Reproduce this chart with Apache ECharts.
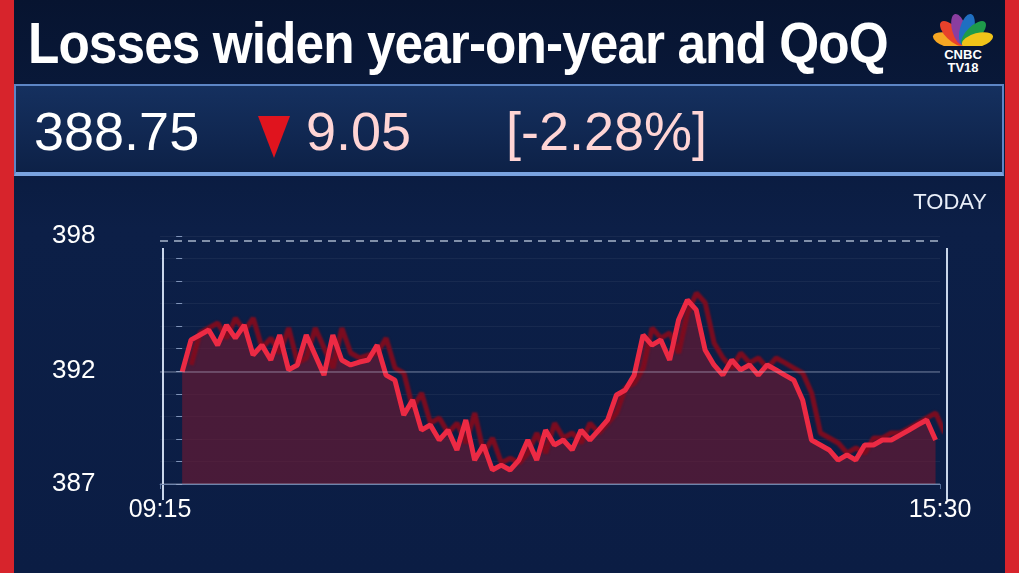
<!DOCTYPE html>
<html><head><meta charset="utf-8">
<script src="https://cdn.jsdelivr.net/npm/echarts@6/dist/echarts.min.js"></script>
<style>
html,body{margin:0;padding:0;width:1019px;height:573px;overflow:hidden;background:#0b1b3d;font-family:"Liberation Sans",Arial,sans-serif}
#wrap{position:relative;width:1019px;height:573px;background:linear-gradient(#071430,#0c1f47 40%,#0b1d44)}
.edge{position:absolute;top:0;width:14px;height:573px;background:#d7242c}
#title{position:absolute;left:28px;top:10px;color:#fff;font-weight:bold;font-size:57px;font-family:"Liberation Sans Narrow","Liberation Sans",sans-serif;letter-spacing:-1px;white-space:nowrap;transform:scaleX(0.9);transform-origin:left}
#box{position:absolute;left:14px;top:84px;width:990px;height:92px;border:2px solid #5d86c6;border-bottom:4px solid #7aa3e0;background:linear-gradient(#15305f,#0d2147);box-sizing:border-box}
.t{position:absolute;top:14px;font-size:54px;white-space:nowrap}
#logo{position:absolute;left:930px;top:12px;width:66px;text-align:center;color:#fff;font-weight:bold;font-size:13px;line-height:13px}
#chart{position:absolute;left:0;top:0;width:1019px;height:573px}
</style></head><body>
<div id="wrap">
<div class="edge" style="left:0"></div><div class="edge" style="right:0"></div>
<div id="title">Losses widen year-on-year and QoQ</div>
<div id="logo"><svg width="62" height="34" viewBox="0 0 62 34"><g transform="translate(31,32)">
<ellipse rx="7" ry="16" transform="rotate(-75) translate(0,-15)" fill="#f5a623"/>
<ellipse rx="7" ry="16" transform="rotate(-45) translate(0,-15)" fill="#e8412b"/>
<ellipse rx="7" ry="16" transform="rotate(-15) translate(0,-15)" fill="#8a3ea0"/>
<ellipse rx="7" ry="16" transform="rotate(15) translate(0,-15)" fill="#1f6fc1"/>
<ellipse rx="7" ry="16" transform="rotate(45) translate(0,-15)" fill="#1e9b4a"/>
<ellipse rx="7" ry="16" transform="rotate(75) translate(0,-15)" fill="#f0c419"/></g></svg><br>CNBC<br>TV18</div>
<div id="box">
<div class="t" style="left:18px;color:#fff">388.75</div>
<div class="t" style="left:242px;top:30px;width:0;height:0;border-left:16px solid transparent;border-right:16px solid transparent;border-top:42px solid #e0141e"></div>
<div class="t" style="left:290px;color:#ffd5d5">9.05</div>
<div class="t" style="left:490px;color:#ffd5d5">[-2.28%]</div>
</div>
<div id="chart"></div>
</div>
<script>
const xLabels = ["09:15", "15:30"];
const yTickLabels = [387, 392, 398];
const prevClose = 397.8;
const prices = [391.97,393.39,393.61,393.83,393.16,394.05,393.47,394.05,392.72,393.16,392.50,393.61,392.06,392.28,393.61,392.72,391.83,393.61,392.50,392.28,392.41,392.50,393.16,391.83,391.61,390.06,390.73,389.39,389.62,388.95,389.39,388.51,389.84,388.06,388.73,387.62,387.84,387.62,388.06,388.95,388.06,389.39,388.73,388.95,388.51,389.39,388.95,389.39,389.84,390.95,391.17,391.83,393.61,393.16,393.39,392.50,394.27,395.16,394.72,392.94,392.28,391.83,392.50,392.06,392.28,391.83,392.28,392.06,391.83,391.61,390.73,388.95,388.73,388.51,388.06,388.29,388.06,388.73,388.73,388.95,388.95,389.17,389.39,389.62,389.84,388.95];
const xMin = -2.5, xMax = prices.length - 1 + 0.5;
const chart = echarts.init(document.getElementById('chart'));
chart.setOption({
  animation:false,
  graphic:[{type:'text',right:32,top:192,style:{text:'TODAY',fill:'#e8eef8',font:'22px "Liberation Sans", sans-serif',letterSpacing:1}},
           {type:'line',shape:{x1:947,y1:248,x2:947,y2:500},style:{stroke:'#c9d6ea',lineWidth:2}},
           {type:'line',shape:{x1:163,y1:248,x2:163,y2:500},style:{stroke:'#c9d6ea',lineWidth:2}}],
  grid:{left:160,right:79,top:236,bottom:89},
  xAxis:{type:'value',min:xMin,max:xMax,interval:xMax-xMin,
    axisLine:{show:true,lineStyle:{color:'#4f6a96'}},axisTick:{show:true,lineStyle:{color:'#4f6a96'}},
    splitLine:{show:false},
    axisLabel:{color:'#fff',fontSize:25,margin:14,showMinLabel:true,showMaxLabel:true,
      formatter:v=>v<=xMin+0.01?xLabels[0]:xLabels[1]}},
  yAxis:{type:'value',min:387,max:398,interval:1,
    axisLine:{show:false},axisTick:{show:true,length:6,lineStyle:{color:'#7f93b8'}},
    splitLine:{show:true,lineStyle:{color:'rgba(255,255,255,0.05)'}},
    axisLabel:{color:'#fff',fontSize:26,margin:108,align:'left',formatter:v=>yTickLabels.includes(v)?String(v):''}},
  series:[{type:'line',data:prices.map((v,i)=>[i,v]),symbol:'none',
    lineStyle:{color:'#ec2a44',width:5,shadowColor:'rgba(130,12,30,0.95)',shadowBlur:2,shadowOffsetX:9,shadowOffsetY:-7},
    areaStyle:{color:'rgba(115,26,48,0.85)',origin:'start'},
    markLine:{symbol:'none',silent:true,label:{show:false},
      data:[{yAxis:prevClose,lineStyle:{color:'#a8b6cc',type:[8,6],width:1.5}},
            {yAxis:392,lineStyle:{color:'rgba(200,210,230,0.35)',type:'solid',width:1.5}},
            {yAxis:387,lineStyle:{color:'rgba(200,210,230,0.35)',type:'solid',width:1.5}}]}}]
});
</script></body></html>
